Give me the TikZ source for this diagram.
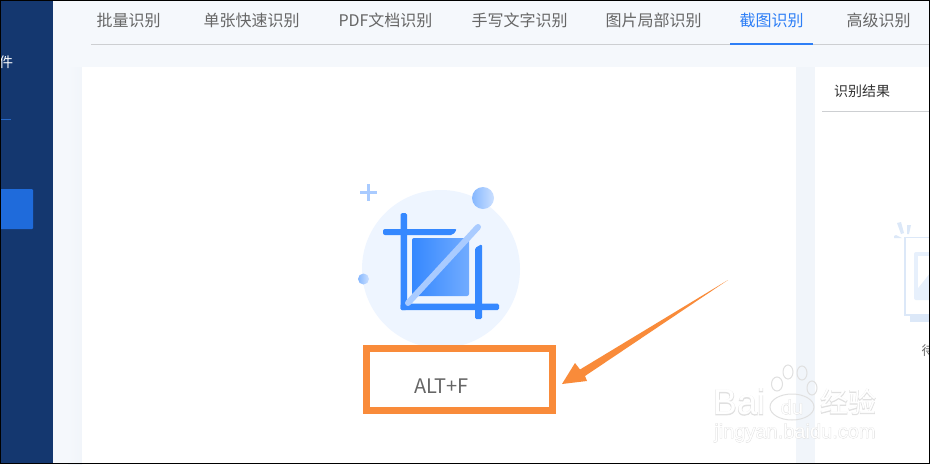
\documentclass[tikz,border=0pt]{standalone}
\usepackage{fontspec}
\setmainfont{Noto Sans CJK SC}
\newfontfamily\wmfat[FakeBold=3]{Liberation Sans}
\newfontfamily\wmcjkfat[FakeBold=3]{Noto Sans CJK SC}
\newfontfamily\wmthin{Liberation Sans}
\newfontfamily\wmcjkthin{Noto Sans CJK SC}

\definecolor{sidebar}{HTML}{14376F}
\definecolor{sidebtn}{HTML}{1F6BDB}
\definecolor{pagebg}{HTML}{F5F8FC}
\definecolor{gapbg}{HTML}{F1F5FA}
\definecolor{tabgrey}{HTML}{666666}
\definecolor{tabblue}{HTML}{2E7FF6}
\definecolor{rulegrey}{HTML}{CDCFD2}
\definecolor{iconbg}{HTML}{EEF5FF}
\definecolor{iconblue}{HTML}{3588FF}
\definecolor{iconpale}{HTML}{A9CBFF}
\definecolor{markorange}{HTML}{F98B3A}
\definecolor{idlepale}{HTML}{DCE8F8}
\definecolor{wmgrey}{HTML}{E0E0E0}

\tikzset{
  tablabel/.style={text=tabgrey,font=\fontsize{16}{19}\selectfont},
  wmfat/.style={text=wmgrey},
  wmthin/.style={text=white}
}

\begin{document}
\begin{tikzpicture}[x=1pt,y=-1pt]

        \useasboundingbox (0,0) rectangle (930,464);
        \clip (0,0) rectangle (930,464);

        % page and cards
        \fill[pagebg] (0,0) rectangle (930,464);
        \fill[sidebar] (0,0) rectangle (53,464);
        \shade[left color=pagebg,right color=gapbg] (68,67) rectangle (82,464);
        \fill[gapbg] (796,67) rectangle (815,464);
        \fill[white] (82,67) rectangle (796,464);
        \fill[white] (815,67) rectangle (930,464);

        % sidebar
        \node[text=white,font=\fontsize{14}{16}\selectfont] (sidetext) at (6,62) {件};
        \draw[color=iconblue!60!sidebar] (1,119.5) -- (11,119.5);
        \fill[sidebtn,rounded corners=1pt] (0,189) rectangle (33,229);

        % tabs
        \draw[rulegrey] (91,44.5) -- (930,44.5);
        \draw[tabblue,line width=1.6pt] (730,44) -- (813,44);
        \begin{scope}[every node/.style={tablabel}]
          \node (tab1) at (128.5,20) {批量识别};
          \node (tab2) at (251.5,20) {单张快速识别};
          \node (tab3) at (385.5,20) {PDF文档识别};
          \node (tab4) at (519.5,20) {手写文字识别};
          \node (tab5) at (653.5,20) {图片局部识别};
          \node[text=tabblue] (tab6) at (771.5,20) {截图识别};
          \node (tab7) at (878.5,20) {高级识别};
        \end{scope}

        % result card
        \node[text=black!80,font=\fontsize{14}{17}\selectfont] (result) at (862,91) {识别结果};
        \draw[rulegrey] (822,111.5) -- (930,111.5);

        % crop icon
        \fill[iconbg] (441,269) circle (79);
        \fill[iconpale] (366.5,184) rectangle (369.8,201);
        \fill[iconpale] (360,191) rectangle (377,194);
        \shade[left color=iconblue!60,right color=iconpale!60] (483,198) circle (11);
        \shade[left color=iconblue!60,right color=iconpale!60] (363.5,279) circle (5.5);
        \fill[iconblue,rounded corners=1.5pt] (400.5,213) rectangle (407,310);
        \fill[iconblue,rounded corners=1.5pt] (400.5,303.5) rectangle (499,310);
        \fill[iconblue,rounded corners=2pt] (383,229) -- (457,229) -- (453,235) -- (383,235) -- cycle;
        \fill[iconblue,rounded corners=1.5pt] (475,319) -- (475,248) -- (482,244) -- (482,319) -- cycle;
        \shade[left color=iconblue,right color=iconblue!70!white,rounded corners=2pt] (412,238) rectangle (469,296);
        \draw[iconpale,line width=6pt,line cap=round] (408,303) -- (478,227);

        % idle icon on the right, cut off by the window
        \draw[idlepale,line width=1.5pt] (931,237.5) -- (905,237.5) -- (905,315) -- (931,315);
        \fill[idlepale] (910,316) rectangle (930,322);
        \fill[iconbg!60!idlepale,rounded corners=2pt] (914,252) rectangle (934,300);
        \fill[white] (918,256) -- (930,256) -- (930,273) -- (918,288) -- cycle;
        \fill[idlepale] (897,223) -- (901,222) -- (904,233) -- (901,234) -- cycle;
        \fill[idlepale] (907,225) -- (911,225) -- (909,234) -- (907,234) -- cycle;
        \fill[idlepale] (894,236) -- (896,235) -- (902,238) -- (894,238) -- cycle;
        \node[text=tabgrey,font=\fontsize{13}{15}\selectfont] (idletext) at (928,351) {待};

        % watermark
        \begin{scope}[every node/.style={inner sep=0pt}]
          \draw[wmgrey,line width=1pt] (777,384) circle (5.5 and 7);
          \draw[wmgrey,line width=1pt] (788,372) circle (5 and 7);
          \draw[wmgrey,line width=1pt] (802,373) circle (5 and 7);
          \draw[wmgrey,line width=1pt] (812,388) circle (5 and 7);
          \draw[wmgrey,line width=1pt] (792,407) circle (22 and 13);
          \node[wmfat] (wmbai) at (739,402) {\wmfat\fontsize{36}{36}\selectfont Bai};
          \node[wmthin] (wmbaiin) at (739,402) {\wmthin\fontsize{36}{36}\selectfont Bai};
          \node[wmfat] (wmdu) at (792,407) {\wmfat\fontsize{20}{20}\selectfont du};
          \node[wmthin] (wmduin) at (792,407) {\wmthin\fontsize{20}{20}\selectfont du};
          \node[wmfat] (wmjy) at (848,402) {\wmcjkfat\fontsize{28}{28}\selectfont 经验};
          \node[wmthin] (wmjyin) at (848,402) {\wmcjkthin\fontsize{28}{28}\selectfont 经验};
          \node[wmfat] (wmurl) at (795,433) {\wmfat\fontsize{20}{20}\selectfont jingyan.baidu.com};
          \node[wmthin] (wmurlin) at (795,433) {\wmthin\fontsize{20}{20}\selectfont jingyan.baidu.com};
        \end{scope}

        % shortcut and orange mark
        \node[text=tabgrey,font=\fontsize{20}{24}\selectfont] (keys) at (441.5,386) {ALT+F};
        \node[draw=markorange,line width=6.7pt,minimum width=186pt,minimum height=62pt,inner sep=0pt] (markbox) at (459.7,379.5) {};

        \coordinate (tip)   at (562,384);
        \coordinate (wingA) at (575,363);
        \coordinate (neckA) at (580,369.5);
        \coordinate (tail)  at (728,280);
        \coordinate (neckB) at (585,376);
        \coordinate (wingB) at (587,381);
        \fill[markorange] (tip) -- (wingA) -- (neckA) -- (tail) -- (neckB) -- (wingB) -- cycle;

        % window edge
        \draw[black] (0,0.5) -- (930,0.5);
        \draw[black] (0.5,0) -- (0.5,464);
        \draw[black] (929.5,0) -- (929.5,464);
        \draw[black] (0,463.5) -- (930,463.5);

      \end{tikzpicture}
\end{document}
